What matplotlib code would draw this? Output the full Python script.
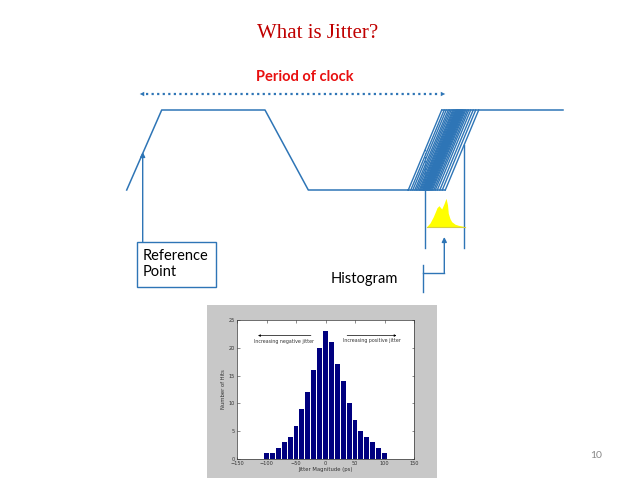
import matplotlib
matplotlib.use("Agg")
import matplotlib.pyplot as plt
from matplotlib.patches import Rectangle, FancyArrowPatch

# histogram data (MATLAB inset)
bin_centers = [-100, -90, -80, -70, -60, -50, -40, -30, -20, -10, 0,
               10, 20, 30, 40, 50, 60, 70, 80, 90, 100]
hit_counts = [1, 1, 2, 3, 4, 6, 9, 12, 16, 20, 23,
              21, 17, 14, 10, 7, 5, 4, 3, 2, 1]
x_ticks = [-150, -100, -50, 0, 50, 100, 150]
y_ticks = [0, 5, 10, 15, 20, 25]

# clock waveform drawn in slide pixel coordinates
clock_x = [126.7, 161.7, 265, 308.3, 408.3]
clock_y = [190, 110, 110, 190, 190]
edge_offsets = [0, 2.5, 4.5, 6.5, 8, 9.5, 11, 12, 13, 14, 14.6, 15.2, 15.8,
                16.4, 17, 17.6, 18.2, 18.8, 19.4, 20, 20.6, 21.2, 22, 23, 24,
                25.5, 27, 29, 31.5, 34, 37]
yellow_x = [426.7, 430, 433.3, 435.7, 437, 439, 441.7, 444, 446, 447.5,
            448.3, 450, 451.7, 455, 458.3, 465]
yellow_h = [0, 3.7, 10, 15.7, 19, 21, 17.7, 23, 28.4, 22, 13.4, 8, 5, 2.5,
            1.4, 0]

BLUE = "#2e75b6"

fig = plt.figure(figsize=(6.38, 4.78), dpi=100)
ax = fig.add_axes([0, 0, 1, 1])
ax.set_xlim(0, 638)
ax.set_ylim(478, 0)
ax.axis("off")

ax.text(318, 33, "What is Jitter?", ha="center", va="center",
        family="Liberation Serif", fontsize=15, color="#c00000")
ax.text(305, 77, "Period of clock", ha="center", va="center",
        family="Lato", fontweight="bold", fontsize=10.5, color="#e81010")

# dotted period arrow
ax.plot([146, 439], [94, 94], linestyle=(0, (1, 1.5)), color=BLUE, lw=1.6)
for x0, x1 in [(146, 137), (439, 448)]:
    ax.add_patch(FancyArrowPatch((x0, 94), (x1, 94), arrowstyle="-|>",
                                 mutation_scale=8, color=BLUE, lw=0))

# clock waveform
ax.plot(clock_x, clock_y, color=BLUE, lw=1.1)
ax.plot([clock_x[-1], 445], [190, 190], color=BLUE, lw=1.1)
for off in edge_offsets:
    ax.plot([408.3 + off, 441.7 + off], [190, 110], color=BLUE, lw=1.0)
ax.plot([441.7, 563], [110, 110], color=BLUE, lw=1.1)

# jitter window lines
ax.plot([425, 425], [149, 190], color=BLUE, lw=0.9, linestyle=(0, (1.5, 1.5)))
ax.plot([425, 425], [190, 248], color=BLUE, lw=1.0)
ax.plot([464, 464], [145, 248], color=BLUE, lw=1.0)

# yellow jitter distribution
ax.fill_between(yellow_x, 226.7, [226.7 - h for h in yellow_h],
                color="#ffff00", lw=0)
ax.plot([426.7, 465], [226.7, 226.7], color="#d8d040", lw=0.8)

# reference point arrow and box
ax.add_patch(FancyArrowPatch((142.7, 241.7), (142.7, 152), arrowstyle="-|>",
                             mutation_scale=7, color=BLUE, lw=1.0,
                             shrinkA=0, shrinkB=0))
ax.add_patch(Rectangle((136.7, 241.7), 79.3, 45, fill=False,
                       edgecolor=BLUE, lw=1.0))
ax.text(143, 264, "Reference\nPoint", ha="left", va="center",
        family="Lato", fontsize=10.5, linespacing=1.2, color="black")

# histogram arrow
ax.plot([423.3, 423.3], [265, 292], color=BLUE, lw=1.0)
ax.plot([423.3, 444.3], [272.7, 272.7], color=BLUE, lw=1.0)
ax.add_patch(FancyArrowPatch((444.3, 272.7), (444.3, 237), arrowstyle="-|>",
                             mutation_scale=7, color=BLUE, lw=1.0,
                             shrinkA=0, shrinkB=0))
ax.text(331, 279, "Histogram", ha="left", va="center",
        family="Lato", fontsize=10.5, color="black")

ax.text(596, 455, "10", ha="center", va="center", family="Lato",
        fontsize=7.5, color="#888888")

# gray MATLAB figure background
ax.add_patch(Rectangle((207, 305), 230, 173, facecolor="#c8c8c8",
                       edgecolor="none", zorder=0))

# inset histogram
hx = fig.add_axes([237 / 638, (478 - 459) / 478, 177 / 638, 139 / 478])
hx.bar(bin_centers, hit_counts, width=8.3, color="#00007f", lw=0)
hx.set_xlim(-150, 150)
hx.set_ylim(0, 25)
hx.set_xticks(x_ticks)
hx.set_yticks(y_ticks)
hx.tick_params(direction="in", length=1.8, width=0.4, labelsize=3.6,
               top=True, right=True, pad=1.5, colors="#333333")
for s in hx.spines.values():
    s.set_linewidth(0.5)
    s.set_color("#333333")
hx.set_xlabel("Jitter Magnitude (ps)", fontsize=3.8, labelpad=1, color="#333333")
hx.set_ylabel("Number of Hits", fontsize=3.8, labelpad=2, color="#333333")
hx.annotate("", xy=(-119, 22.2), xytext=(-20, 22.2),
            arrowprops=dict(arrowstyle="-|>", lw=0.5, color="black",
                            mutation_scale=3))
hx.text(-70, 21.1, "Increasing negative jitter", ha="center", va="center",
        fontsize=3.4, color="#333333")
hx.annotate("", xy=(125, 22.2), xytext=(32, 22.2),
            arrowprops=dict(arrowstyle="-|>", lw=0.5, color="black",
                            mutation_scale=3))
hx.text(78, 21.3, "Increasing positive jitter", ha="center", va="center",
        fontsize=3.4, color="#333333")

fig.savefig("out.png", dpi=100)
